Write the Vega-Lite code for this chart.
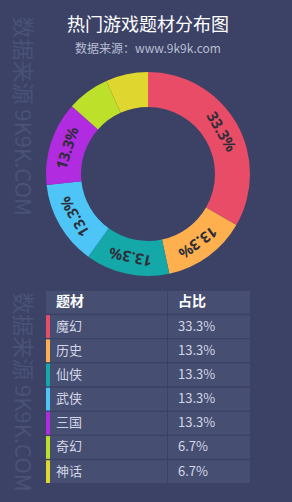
{
  "$schema": "https://vega.github.io/schema/vega-lite/v6.json",
  "background": "#3b4266",
  "padding": {"top": 16, "left": 0, "right": 42, "bottom": 30},
  "config": {"view": {"stroke": null}, "font": "Noto Sans CJK SC"},
  "datasets": {
    "genres": [
      {"题材": "魔幻", "share": 0.333},
      {"题材": "历史", "share": 0.133},
      {"题材": "仙侠", "share": 0.133},
      {"题材": "武侠", "share": 0.133},
      {"题材": "三国", "share": 0.133},
      {"题材": "奇幻", "share": 0.067},
      {"题材": "神话", "share": 0.067}
    ],
    "header": [{"题材": "题材", "占比": "占比"}],
    "watermark": [
      {"slot": "上", "label": "数据来源 9K9K.COM"},
      {"slot": "下", "label": "数据来源 9K9K.COM"}
    ]
  },
  "spacing": 2,
  "hconcat": [
    {
      "width": 44,
      "height": 364,
      "data": {"name": "watermark"},
      "mark": {"type": "text", "angle": 90, "fontSize": 22, "color": "#4a5277", "font": "Noto Sans CJK SC"},
      "encoding": {
        "y": {"field": "slot", "type": "nominal", "sort": null, "scale": {"type": "point", "padding": 0.16}, "axis": null},
        "text": {"field": "label"}
      }
    },
    {
      "title": {
        "text": "热门游戏题材分布图",
        "subtitle": "数据来源：www.9k9k.com",
        "anchor": "middle",
        "font": "Noto Sans CJK SC",
        "fontSize": 18,
        "fontWeight": "normal",
        "color": "#ffffff",
        "subtitleFont": "Noto Sans CJK SC",
        "subtitleFontSize": 12,
        "subtitleColor": "#b8bdd3",
        "subtitlePadding": 9,
        "offset": 17
      },
      "spacing": 15,
      "vconcat": [
        {
          "width": 204,
          "height": 204,
          "data": {"name": "genres"},
          "transform": [
            {"window": [{"op": "row_number", "as": "idx"}, {"op": "sum", "field": "share", "as": "cum"}], "frame": [null, 0]},
            {"joinaggregate": [{"op": "sum", "field": "share", "as": "total"}]},
            {"calculate": "(datum.cum - datum.share / 2) / datum.total * 360", "as": "mid"}
          ],
          "encoding": {
            "theta": {"field": "share", "type": "quantitative", "stack": true},
            "order": {"field": "idx", "type": "quantitative"},
            "detail": {"field": "题材", "type": "nominal"}
          },
          "layer": [
            {
              "mark": {"type": "arc", "outerRadius": 102, "innerRadius": 67},
              "encoding": {
                "color": {
                  "field": "题材", "type": "nominal",
                  "scale": {"domain": ["魔幻", "历史", "仙侠", "武侠", "三国", "奇幻", "神话"],
                            "range": ["#e84c66", "#feb04e", "#15a8a8", "#4dc6f7", "#b12be0", "#bde02b", "#dfd62f"]},
                  "legend": null
                }
              }
            },
            {
              "mark": {"type": "text", "radius": 84.5, "fontSize": 15, "fontWeight": "bold", "color": "#2e2e38", "font": "Noto Sans"},
              "encoding": {
                "text": {"condition": {"test": "datum.share < 0.1", "value": ""}, "field": "share", "type": "quantitative", "format": ".1%"},
                "angle": {"field": "mid", "type": "quantitative", "scale": null}
              }
            }
          ]
        },
        {
          "spacing": 1,
          "hconcat": [
            {
              "spacing": 0,
              "hconcat": [
                {
                  "width": 4,
                  "height": 192,
                  "layer": [
                    {
                      "data": {"name": "header"},
                      "mark": {"type": "rect", "color": "#464e72"},
                      "encoding": {
                        "y": {"field": "题材", "type": "nominal", "sort": null, "scale": {"domain": ["题材", "魔幻", "历史", "仙侠", "武侠", "三国", "奇幻", "神话"], "paddingInner": 0.06, "paddingOuter": 0}, "axis": null}
                      }
                    },
                    {
                      "data": {"name": "genres"},
                      "mark": {"type": "rect"},
                      "encoding": {
                        "y": {"field": "题材", "type": "nominal", "sort": null, "scale": {"domain": ["题材", "魔幻", "历史", "仙侠", "武侠", "三国", "奇幻", "神话"], "paddingInner": 0.06, "paddingOuter": 0}, "axis": null},
                        "color": {
                          "field": "题材", "type": "nominal",
                          "scale": {"domain": ["魔幻", "历史", "仙侠", "武侠", "三国", "奇幻", "神话"],
                                    "range": ["#e84c66", "#feb04e", "#15a8a8", "#4dc6f7", "#b12be0", "#bde02b", "#dfd62f"]},
                          "legend": null
                        }
                      }
                    }
                  ]
                },
                {
                  "width": 117,
                  "height": 192,
                  "encoding": {
                    "y": {"field": "题材", "type": "nominal", "sort": null, "scale": {"domain": ["题材", "魔幻", "历史", "仙侠", "武侠", "三国", "奇幻", "神话"], "paddingInner": 0.06, "paddingOuter": 0}, "axis": null}
                  },
                  "layer": [
                    {"data": {"name": "header"}, "mark": {"type": "rect", "color": "#464e72"}},
                    {"data": {"name": "genres"}, "mark": {"type": "rect", "color": "#464e72"}},
                    {
                      "data": {"name": "header"},
                      "mark": {"type": "text", "align": "left", "x": 0, "dx": 6, "fontSize": 14, "fontWeight": "bold", "color": "#ffffff"},
                      "encoding": {"text": {"field": "题材"}}
                    },
                    {
                      "data": {"name": "genres"},
                      "mark": {"type": "text", "align": "left", "x": 0, "dx": 6, "fontSize": 13, "color": "#d3d6e6"},
                      "encoding": {"text": {"field": "题材"}}
                    }
                  ]
                }
              ]
            },
            {
              "width": 82,
              "height": 192,
              "encoding": {
                "y": {"field": "题材", "type": "nominal", "sort": null, "scale": {"domain": ["题材", "魔幻", "历史", "仙侠", "武侠", "三国", "奇幻", "神话"], "paddingInner": 0.06, "paddingOuter": 0}, "axis": null}
              },
              "layer": [
                {"data": {"name": "header"}, "mark": {"type": "rect", "color": "#464e72"}},
                {"data": {"name": "genres"}, "mark": {"type": "rect", "color": "#464e72"}},
                {
                  "data": {"name": "header"},
                  "mark": {"type": "text", "align": "left", "x": 0, "dx": 10, "fontSize": 14, "fontWeight": "bold", "color": "#ffffff"},
                  "encoding": {"text": {"field": "占比"}}
                },
                {
                  "data": {"name": "genres"},
                  "mark": {"type": "text", "align": "left", "x": 0, "dx": 10, "fontSize": 13, "color": "#d3d6e6"},
                  "encoding": {"text": {"field": "share", "type": "quantitative", "format": ".1%"}}
                }
              ]
            }
          ]
        }
      ]
    }
  ]
}
